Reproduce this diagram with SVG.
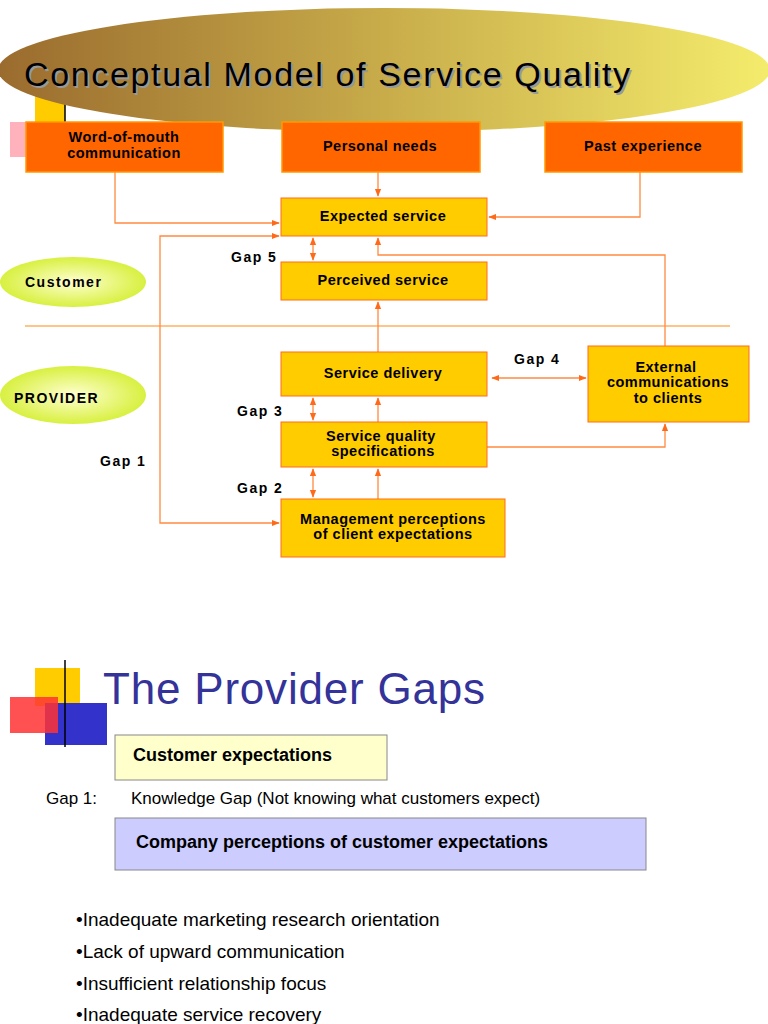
<svg xmlns="http://www.w3.org/2000/svg" width="768" height="1024" viewBox="0 0 768 1024">
<defs>
<linearGradient id="eg" x1="0" x2="1" y1="0" y2="0"><stop offset="0" stop-color="#9a6b2e"/><stop offset="0.5" stop-color="#c8ac4a"/><stop offset="1" stop-color="#f4ec6c"/></linearGradient>
<radialGradient id="lg"><stop offset="0" stop-color="#ffffd0"/><stop offset="1" stop-color="#d8f040"/></radialGradient>
<linearGradient id="hl" x1="0" x2="1"><stop offset="0" stop-color="#000"/><stop offset="1" stop-color="#fff"/></linearGradient>
<linearGradient id="gl" x1="0" x2="1"><stop offset="0" stop-color="#555"/><stop offset="1" stop-color="#bbb"/></linearGradient>
<marker id="a" viewBox="0 0 10 10" refX="9" refY="5" markerWidth="6" markerHeight="6" orient="auto-start-reverse"><path d="M0,1 L10,5 L0,9z" fill="#ff6a1a"/></marker>
</defs>
<style>
.o{fill:#ff6600;stroke:#ff9900;stroke-width:1.5}
.y{fill:#ffcc00;stroke:#ff6a1a;stroke-width:1}
.t{font-family:"Liberation Sans",Arial,sans-serif;font-size:14.5px;font-weight:bold;fill:#000;text-anchor:middle;letter-spacing:0.5px}
.g{font-family:"Liberation Sans",Arial,sans-serif;font-size:14px;font-weight:bold;fill:#000;letter-spacing:1.5px}
.c{fill:none;stroke:#ff8a40;stroke-width:1.3}
.b{font-family:"Liberation Sans",Arial,sans-serif;font-size:19px;fill:#000}
</style>
<rect width="768" height="1024" fill="#fff"/>
<rect x="35" y="88" width="30" height="34" fill="#ffcc00"/>
<rect x="10" y="122" width="22" height="35" fill="#ff6677" opacity="0.5"/>
<line x1="65" y1="100" x2="65" y2="122" stroke="#000" stroke-width="1.5"/>
<ellipse cx="384" cy="70" rx="386" ry="62" fill="url(#eg)"/>
<text x="24" y="86" font-family="'Liberation Sans',Arial,sans-serif" font-size="34" fill="#999" transform="translate(2,2)" textLength="606">Conceptual Model of Service Quality</text>
<text x="24" y="86" font-family="'Liberation Sans',Arial,sans-serif" font-size="34" fill="#000" textLength="606">Conceptual Model of Service Quality</text>
<line x1="223" y1="150" x2="545" y2="150" stroke="url(#gl)" stroke-width="3"/>
<line x1="25" y1="326" x2="730" y2="326" stroke="#ffb060" stroke-width="1.3"/>
<g id="connectors">
<path class="c" d="M115,172 V223 H279" marker-end="url(#a)"/>
<path class="c" d="M378,172 V196" marker-end="url(#a)"/>
<path class="c" d="M640,172 V217 H489" marker-end="url(#a)"/>
<path class="c" d="M279,236 H160 V523 H279" marker-start="url(#a)" marker-end="url(#a)"/>
<path class="c" d="M313,238 V260" marker-start="url(#a)" marker-end="url(#a)"/>
<path class="c" d="M665,346 V255 H378 V238" marker-end="url(#a)"/>
<path class="c" d="M378,352 V302" marker-end="url(#a)"/>
<path class="c" d="M313,398 V420" marker-start="url(#a)" marker-end="url(#a)"/>
<path class="c" d="M378,422 V398" marker-end="url(#a)"/>
<path class="c" d="M313,469 V497" marker-start="url(#a)" marker-end="url(#a)"/>
<path class="c" d="M378,499 V469" marker-end="url(#a)"/>
<path class="c" d="M487,447 H665 V424" marker-end="url(#a)"/>
<path class="c" d="M492,378 H586" marker-start="url(#a)" marker-end="url(#a)"/>
</g>
<g id="wom"><rect class="o" x="26" y="122" width="197" height="50"/><text class="t" x="124" y="142">Word-of-mouth</text><text class="t" x="124" y="158">communication</text></g>
<g id="needs"><rect class="o" x="282" y="122" width="198" height="50"/><text class="t" x="380" y="151">Personal needs</text></g>
<g id="past"><rect class="o" x="545" y="122" width="197" height="50"/><text class="t" x="643" y="151">Past experience</text></g>
<g id="expected"><rect class="y" x="281" y="198" width="206" height="38"/><text class="t" x="383" y="221">Expected service</text></g>
<g id="perceived"><rect class="y" x="281" y="262" width="206" height="38"/><text class="t" x="383" y="285">Perceived service</text></g>
<g id="delivery"><rect class="y" x="281" y="352" width="206" height="44"/><text class="t" x="383" y="378">Service delivery</text></g>
<g id="spec"><rect class="y" x="281" y="422" width="206" height="45"/><text class="t" x="381" y="441">Service quality</text><text class="t" x="383" y="456">specifications</text></g>
<g id="mgmt"><rect class="y" x="281" y="499" width="224" height="58"/><text class="t" x="393" y="524">Management perceptions</text><text class="t" x="393" y="539">of client expectations</text></g>
<g id="external"><rect class="y" x="588" y="346" width="161" height="76"/><text class="t" x="666" y="372">External</text><text class="t" x="668" y="387">communications</text><text class="t" x="668" y="403">to clients</text></g>
<g id="customer"><ellipse cx="73" cy="282" rx="73" ry="25" fill="url(#lg)"/><text class="g" x="25" y="287" font-size="14" letter-spacing="2">Customer</text></g>
<g id="provider"><ellipse cx="73" cy="395" rx="73" ry="29" fill="url(#lg)"/><text class="g" x="14" y="403" font-size="18" letter-spacing="1">PROVIDER</text></g>
<text class="g" x="231" y="262">Gap 5</text>
<text class="g" x="514" y="364">Gap 4</text>
<text class="g" x="237" y="416">Gap 3</text>
<text class="g" x="237" y="493">Gap 2</text>
<text class="g" x="100" y="466" font-size="13">Gap 1</text>
<rect x="35" y="668" width="45" height="38" fill="#ffcc00"/>
<rect x="45" y="703" width="62" height="42" fill="#3333cc"/>
<rect x="10" y="697" width="48" height="36" fill="#ff3333" opacity="0.85"/>
<line x1="65" y1="660" x2="65" y2="747" stroke="#000" stroke-width="1.5"/>
<line x1="38" y1="727" x2="735" y2="727" stroke="url(#hl)" stroke-width="2.5"/>
<text x="103" y="704" font-family="'Liberation Sans',Arial,sans-serif" font-size="44" fill="#333399" textLength="382">The Provider Gaps</text>
<g id="custexp"><rect x="115" y="735" width="272" height="45" fill="#ffffcc" stroke="#888"/><text x="133" y="761" font-family="'Liberation Sans',Arial,sans-serif" font-size="18" font-weight="bold">Customer expectations</text></g>
<text x="46" y="804" font-family="'Liberation Sans',Arial,sans-serif" font-size="17">Gap 1:</text>
<text x="131" y="804" font-family="'Liberation Sans',Arial,sans-serif" font-size="17">Knowledge Gap (Not knowing what customers expect)</text>
<g id="compperc"><rect x="115" y="818" width="531" height="52" fill="#ccccff" stroke="#888"/><text x="136" y="848" font-family="'Liberation Sans',Arial,sans-serif" font-size="18" font-weight="bold">Company perceptions of customer expectations</text></g>
<text class="b" x="76" y="926">•Inadequate marketing research orientation</text>
<text class="b" x="76" y="958">•Lack of upward communication</text>
<text class="b" x="76" y="990">•Insufficient relationship focus</text>
<text class="b" x="76" y="1021">•Inadequate service recovery</text>
</svg>
